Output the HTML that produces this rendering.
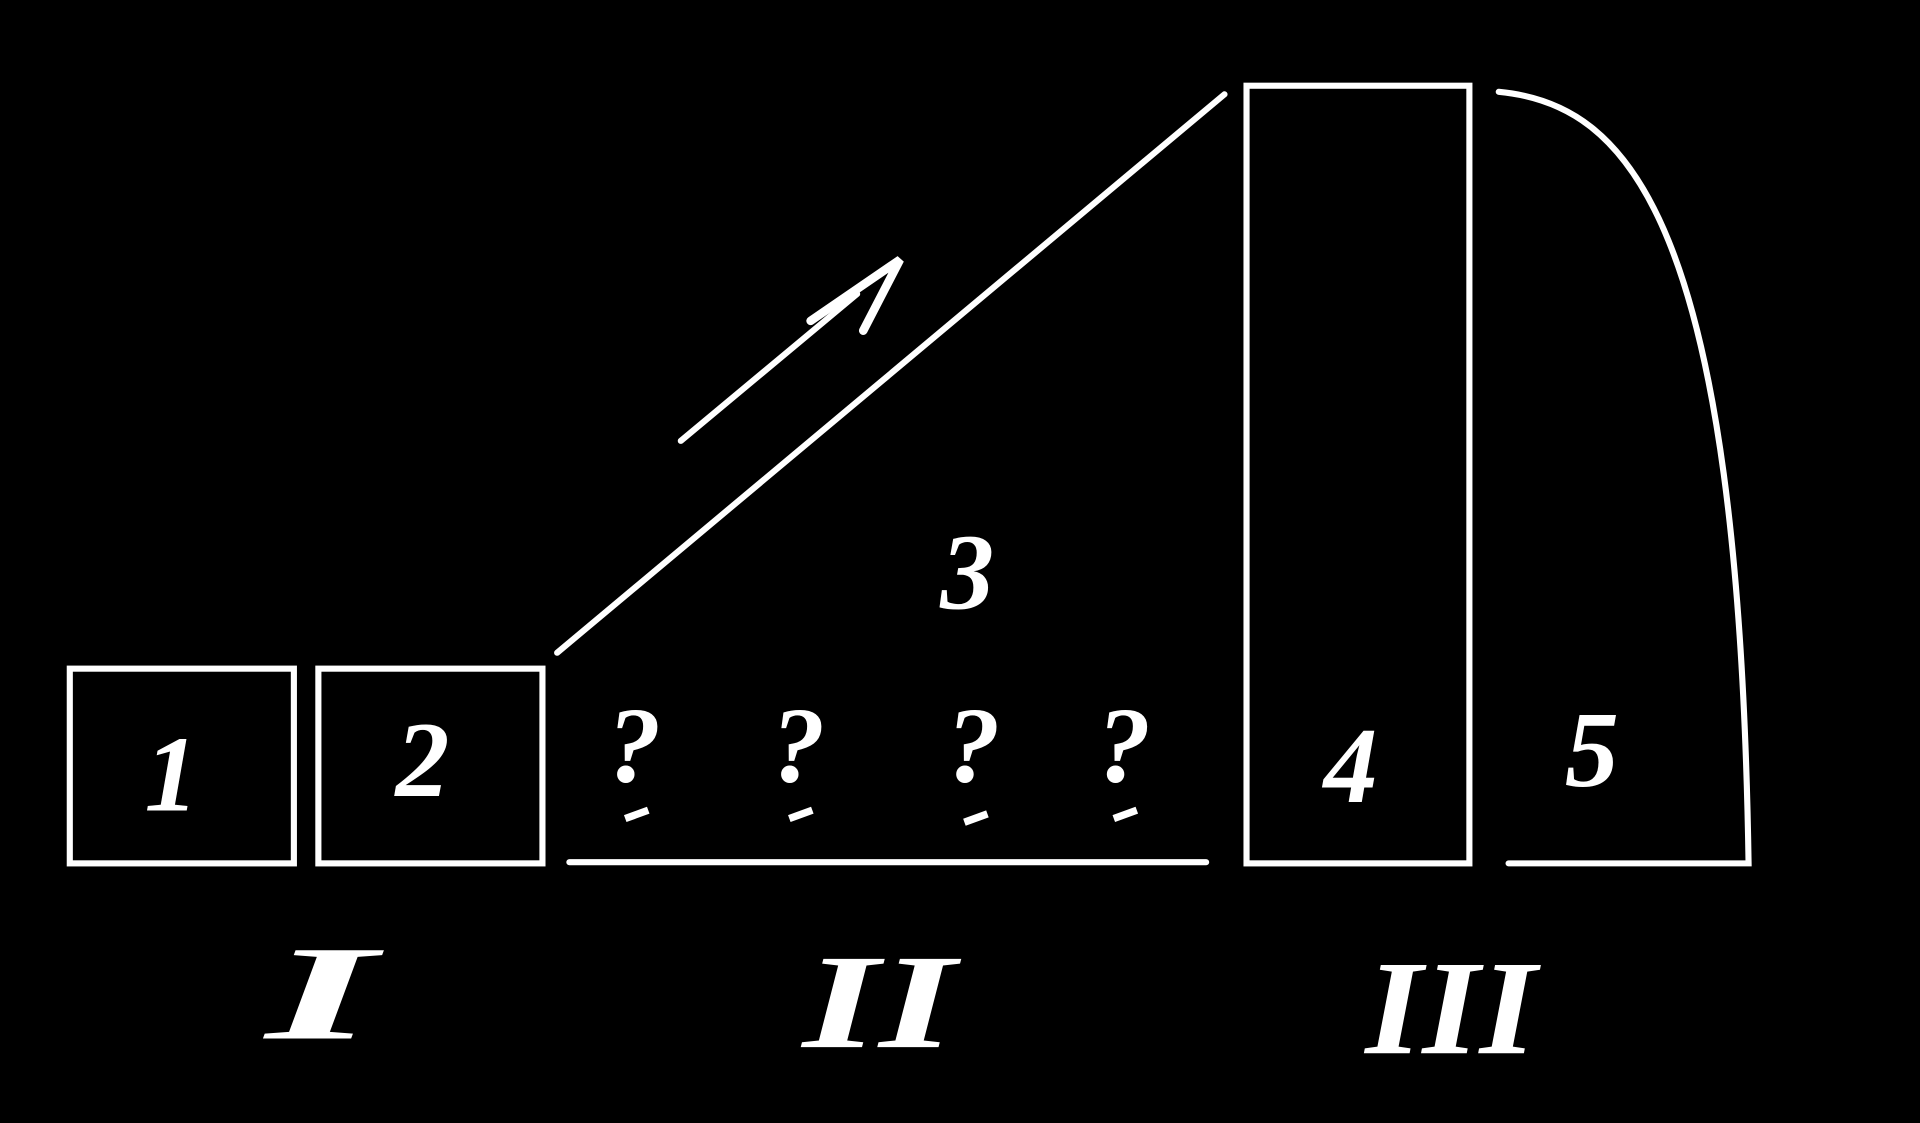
<!DOCTYPE html>
<html><head><meta charset="utf-8"><style>
html,body{margin:0;padding:0;background:#000;width:1920px;height:1123px;overflow:hidden}
svg{display:block}
text{font-family:"Liberation Serif",serif;font-style:italic;font-weight:bold;fill:#fff}
</style></head><body>
<svg width="1920" height="1123" viewBox="0 0 1568 917" preserveAspectRatio="none">
<g stroke="#fff" stroke-width="5" fill="none" stroke-linecap="round">
<rect x="57" y="546" width="183" height="159"/>
<rect x="260" y="546" width="183" height="159"/>
<line x1="455" y1="533" x2="1000" y2="77"/>
<line x1="556" y1="360" x2="700" y2="240"/>
<path d="M662 262 L735 212 L705 270" stroke-width="7"/>
<rect x="1018" y="70" width="182" height="635"/>
<line x1="465" y1="704" x2="985" y2="704"/>
<path d="M1224 75 C1330 85 1420 180 1428 705 L1232 705"/>
</g>
<g font-size="88" text-anchor="middle">
<text x="140" y="662">1</text>
<text x="345" y="650">2</text>
<text x="790" y="497">3</text>
<text x="1103" y="655">4</text>
<text x="1300" y="642">5</text>
<text x="518" y="638">?</text>
<text x="652" y="638">?</text>
<text x="795" y="638">?</text>
<text x="918" y="638">?</text>
</g>
<g fill="#fff">
<rect x="510" y="662" width="20" height="6" transform="rotate(-20 520 665)"/>
<rect x="644" y="662" width="20" height="6" transform="rotate(-20 654 665)"/>
<rect x="787" y="665" width="20" height="6" transform="rotate(-20 797 668)"/>
<rect x="909" y="662" width="20" height="6" transform="rotate(-20 919 665)"/>
</g>
<g font-size="110" text-anchor="middle">
<text x="262" y="848" textLength="90" lengthAdjust="spacingAndGlyphs">I</text>
<text x="718" y="855" textLength="125" lengthAdjust="spacingAndGlyphs">II</text>
<text x="1185" y="860" textLength="140" lengthAdjust="spacingAndGlyphs">III</text>
</g>
</svg>
</body></html>
